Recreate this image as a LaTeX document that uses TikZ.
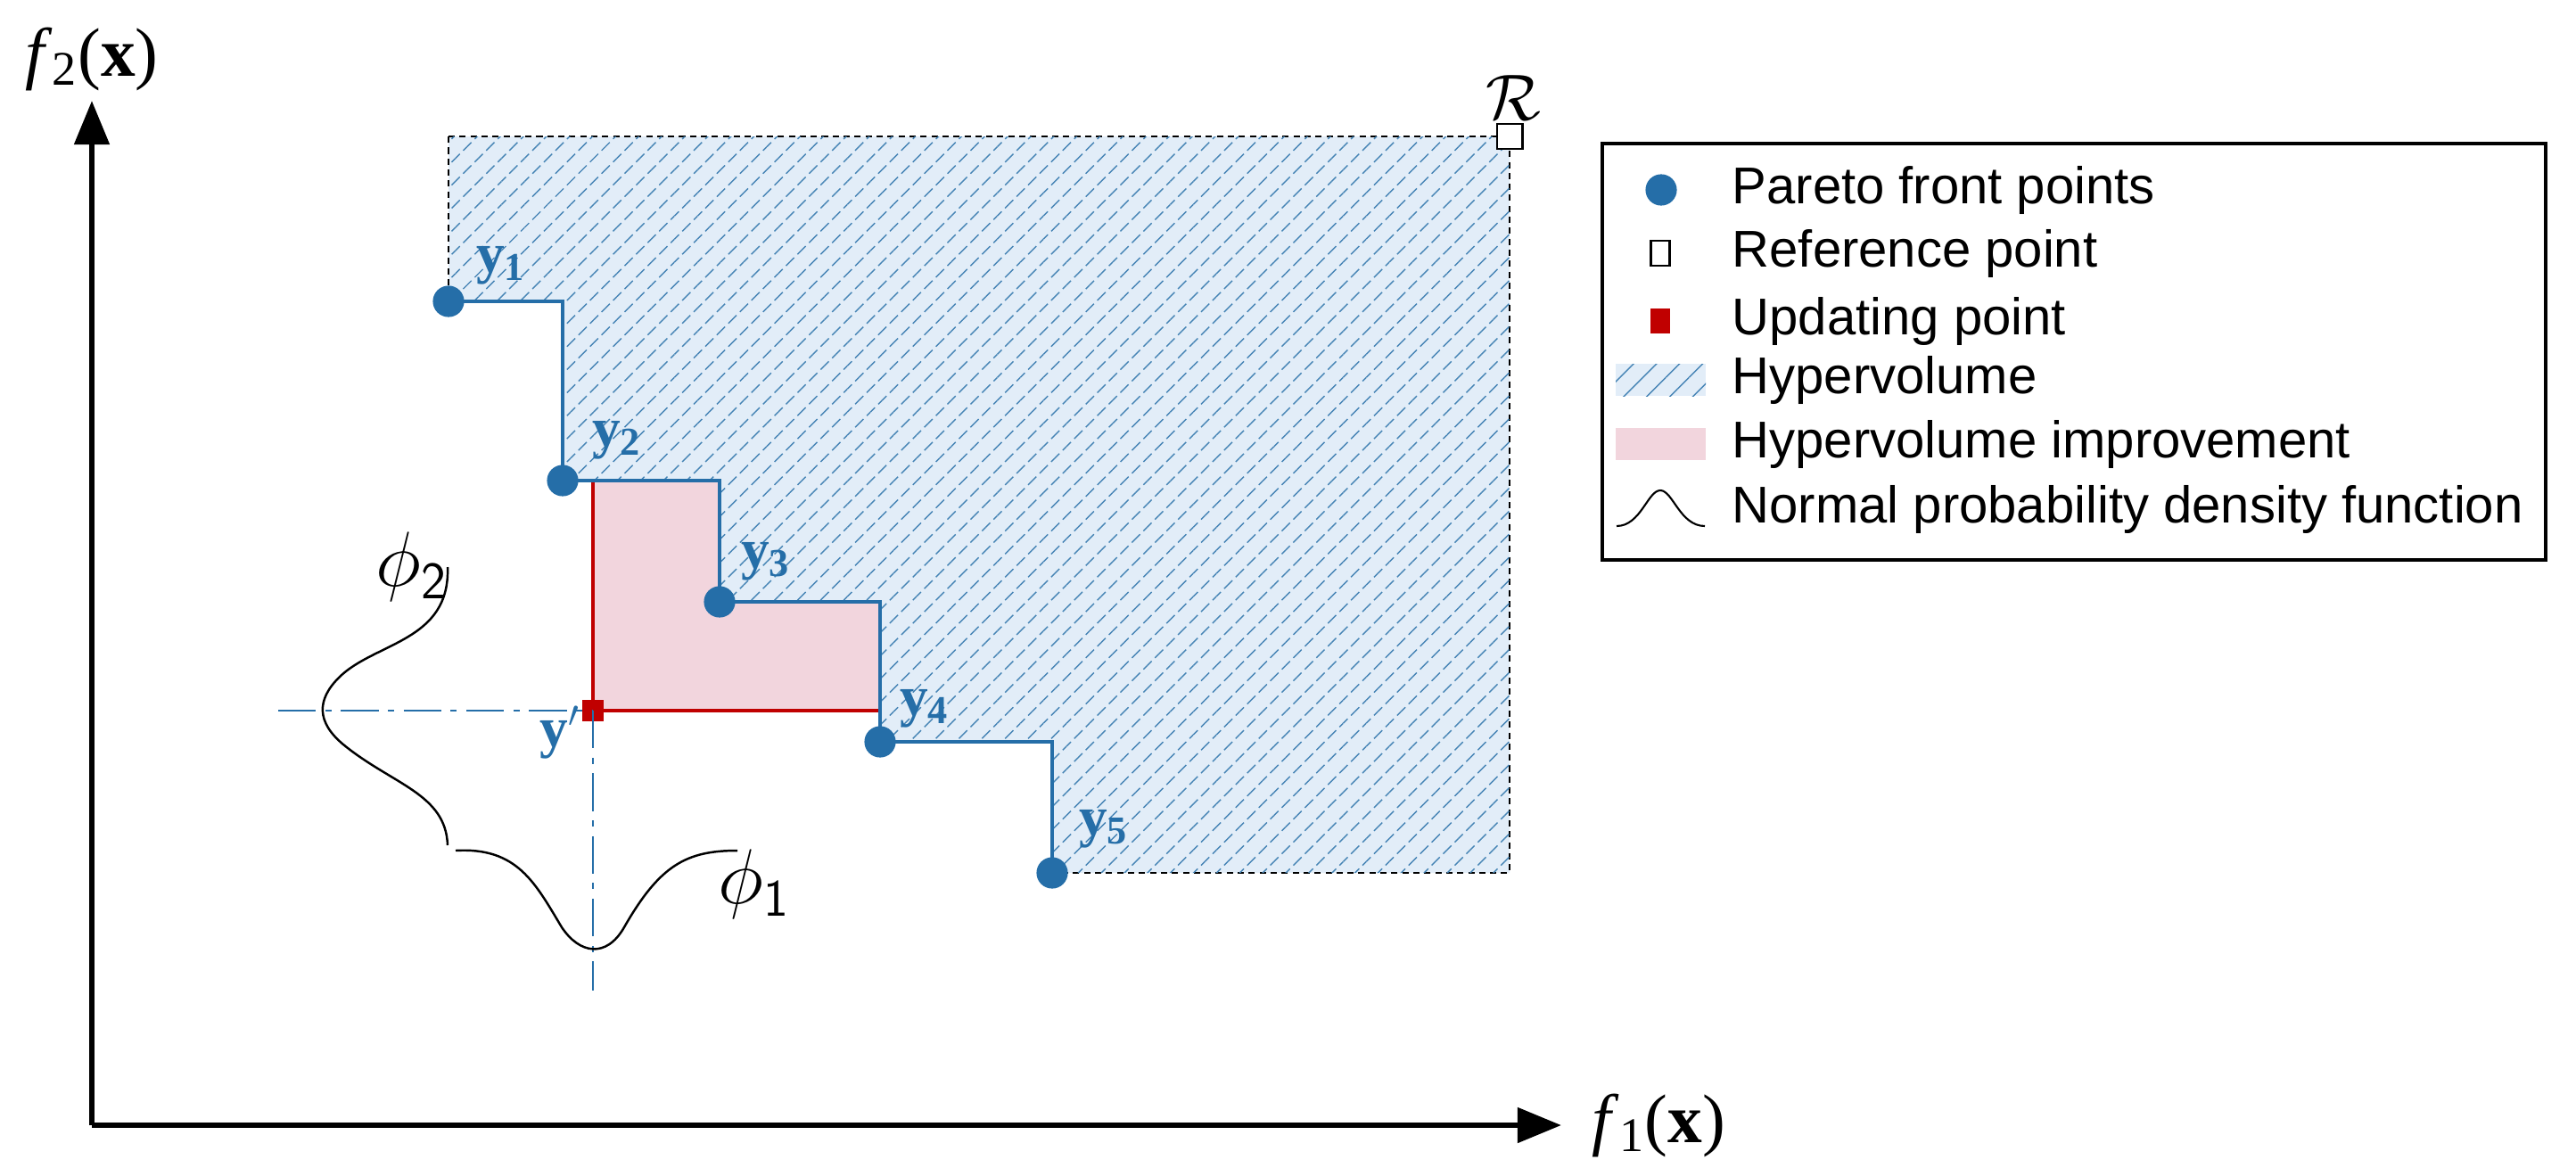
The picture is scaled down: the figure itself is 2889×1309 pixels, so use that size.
\documentclass[tikz,border=0pt]{standalone}
\usepackage{fontspec}
\setmainfont{Liberation Sans}
\newfontfamily\serifx{Liberation Serif}
\usetikzlibrary{patterns.meta,arrows.meta}
\definecolor{pblue}{RGB}{37,110,168}
\definecolor{hblue}{RGB}{226,237,248}
\definecolor{ured}{RGB}{192,0,0}
\definecolor{pink}{RGB}{242,213,221}
\tikzset{
 hatch/.style={fill=hblue,postaction={pattern={Lines[angle=45,distance=5.2pt,line width=0.4pt]},pattern color=pblue!85}},
 pdot/.style={circle,fill=pblue,inner sep=0pt,minimum size=10pt},
 ylab/.style={text=pblue,font=\serifx\bfseries\fontsize{18}{18}\selectfont,inner sep=0pt},
 ddash/.style={pblue,line width=0.6pt,dash pattern=on 12pt off 3pt on 2pt off 3pt},
 leg/.style={anchor=west,font=\fontsize{16.5}{17}\selectfont,inner sep=0pt},
 axlab/.style={font=\serifx\fontsize{22}{22}\selectfont,inner sep=0pt},
}
\newcommand{\ysub}[1]{y\textsubscript{#1}}
\begin{document}
\begin{tikzpicture}[x=0.01cm,y=-0.01cm]
\useasboundingbox (0,0) rectangle (2889,1309);
% hypervolume
\draw[hatch,dash pattern=on 2pt off 1.5pt,line width=0.6pt] (503,153) -- (1693,153) -- (1693,979) -- (1180,979) -- (1180,832) -- (987,832) -- (987,675) -- (807,675) -- (807,539) -- (631,539) -- (631,338) -- (503,338) -- cycle;
\fill[pink] (665,539) -- (807,539) -- (807,675) -- (987,675) -- (987,797) -- (665,797) -- cycle;
\draw[ured,line width=1.3pt] (665,539) -- (665,797) -- (987,797);
% axes
\coordinate (O) at (103,1262);
\coordinate (ytop) at (103,113);
\coordinate (xend) at (1751,1262);
\draw[line width=1.8pt,-{Triangle[length=14pt,width=11pt]}] (O) -- (ytop);
\draw[line width=1.8pt,-{Triangle[length=14pt,width=11pt]}] (O) -- (xend);
\node[axlab] (f2) at (103,66) {\textit{f}\textsubscript{2}(\textbf{x})};
\node[axlab,anchor=west] (f1) at (1785,1262) {\textit{f}\textsubscript{1}(\textbf{x})};
% dash-dot guides
\coordinate (hl) at (312,797);
\coordinate (vb) at (665,1111);
\node[fill=ured,inner sep=0pt,minimum size=7pt] (yp) at (665,797) {};
\draw[ddash] (hl) -- (yp.center);
\draw[ddash] (yp.center) -- (vb);
% pdf curves
\draw[line width=0.7pt] (502,636) .. controls (505,720) and (420,720) .. (380,760) .. controls (355,785) and (355,810) .. (385,835) .. controls (440,880) and (500,890) .. (502,948);
\draw[line width=0.7pt] (511,954) .. controls (580,950) and (600,990) .. (630,1040) .. controls (650,1070) and (680,1075) .. (700,1040) .. controls (740,970) and (770,954) .. (827,954);
\node[font=\serifx\itshape\fontsize{24}{24}\selectfont] (phi2) at (462,636) {$\phi$\textsubscript{\sffamily\upshape 2}};
\node[font=\serifx\itshape\fontsize{24}{24}\selectfont] (phi1) at (846,992) {$\phi$\textsubscript{\sffamily\upshape 1}};
% pareto front
\node[pdot] (y1) at (503,338) {};
\node[pdot] (y2) at (631,539) {};
\node[pdot] (y3) at (807,675) {};
\node[pdot] (y4) at (987,832) {};
\node[pdot] (y5) at (1180,979) {};
\draw[pblue,line width=1.4pt] (y1.center) -| (y2.center) -| (y3.center) -| (y4.center) -| (y5.center);
\node[ylab] (ly1) at (562,298) {\ysub{1}};
\node[ylab] (ly2) at (692,494) {\ysub{2}};
\node[ylab] (ly3) at (859,630) {\ysub{3}};
\node[ylab] (ly4) at (1037,795) {\ysub{4}};
\node[ylab] (ly5) at (1238,930) {\ysub{5}};
\node[ylab] (lyp) at (628,822) {y$'$};
% reference point
\node[draw,fill=white,line width=0.8pt,inner sep=0pt,minimum size=8pt] (R) at (1693,153) {};
\node[font=\fontsize{20}{20}\selectfont] (lR) at (1697,110) {$\mathcal{R}$};
% legend
\draw[line width=1pt] (1797,161) rectangle (2855,628);
\node[pdot] (l1) at (1863,213) {};
\node[draw,fill=white,line width=0.7pt,inner sep=0pt,minimum width=6pt,minimum height=8pt] (l2) at (1862,284) {};
\node[fill=ured,inner sep=0pt,minimum width=6pt,minimum height=8pt] (l3) at (1862,360) {};
\path[hatch] (1812,408) rectangle (1913,444);
\fill[pink] (1812,480) rectangle (1913,516);
\draw[line width=0.6pt] (1813,590) .. controls (1840,590) and (1848,550) .. (1862,550) .. controls (1876,550) and (1884,590) .. (1912,590);
\node[leg] at (1942,213) {Pareto front points};
\node[leg] at (1942,284) {Reference point};
\node[leg] at (1942,360) {Updating point};
\node[leg] at (1942,426) {Hypervolume};
\node[leg] at (1942,498) {Hypervolume improvement};
\node[leg] at (1942,571) {Normal probability density function};
\end{tikzpicture}
\end{document}
